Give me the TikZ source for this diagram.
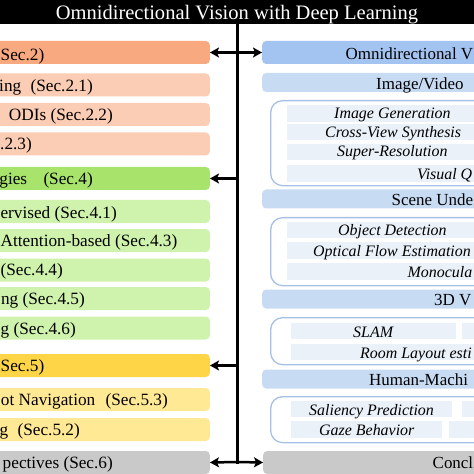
\documentclass[tikz,border=0pt]{standalone}
\usepackage{fontspec}
\setmainfont{Liberation Serif}
\usepackage{xcolor}
\usepackage{tikz}
\usetikzlibrary{arrows.meta,positioning}
\definecolor{orgA}{HTML}{F9A97F}
\definecolor{orgB}{HTML}{FBCDB4}
\definecolor{grnA}{HTML}{A8E46C}
\definecolor{grnB}{HTML}{CFF2AD}
\definecolor{ylwA}{HTML}{FDD547}
\definecolor{ylwB}{HTML}{FFE995}
\definecolor{gryA}{HTML}{C9C9C9}
\definecolor{bluA}{HTML}{A3C3F0}
\definecolor{bluB}{HTML}{C7DBF3}
\definecolor{frameC}{HTML}{A7C0E6}
\definecolor{cellC}{HTML}{EBF1F9}
\tikzset{
  ar/.style={-{Stealth[length=9bp,width=10bp,inset=2bp]},line width=2.5bp,black},
  spine/.style={line width=3bp,black,line cap=rect},
  lbox/.style={rounded corners=4bp,minimum width=400bp,minimum height=23bp,inner sep=0pt,anchor=east},
  rhead/.style={rounded corners=4bp,minimum width=300bp,minimum height=23bp,inner sep=0pt,anchor=west},
  rsub/.style={rounded corners=4bp,minimum width=300bp,minimum height=19bp,inner sep=0pt,anchor=west,fill=bluB},
  frm/.style={draw=frameC,line width=1.3bp,fill=white,rounded corners=12bp,anchor=north west,minimum width=260bp,inner sep=0pt},
  cell/.style={fill=cellC,minimum height=16.5bp,inner sep=0pt,anchor=west},
  ltxt/.style={font=\fontsize{17.3}{20}\selectfont,anchor=base east,inner sep=0pt},
  htxt/.style={font=\fontsize{17}{20}\selectfont,anchor=base west,inner sep=0pt},
  itxt/.style={font=\fontsize{16}{19}\selectfont\itshape,anchor=base west,inner sep=0pt}
}

\begin{document}
\begin{tikzpicture}[x=1bp,y=-1bp]
\path[use as bounding box] (0,0) rectangle (474,474);
\clip (0,0) rectangle (474,474);
% title bar
\fill[black] (-5,-5) rectangle (480,24);
\node[font=\fontsize{20.6}{24}\selectfont,text=white,anchor=base,inner sep=0pt] (ttl) at (237,19.5) {Omnidirectional Vision with Deep Learning};

% left column
\node[lbox,fill=orgA] (s2) at (210,52.5) {};
\node[ltxt,anchor=base west] at (0.5,60.7) {Sec.2)};
\node[lbox,fill=orgB] (s21) at (210,85) {};
\node[ltxt] at (93,91.7) {ing\hspace{5bp} (Sec.2.1)};
\node[lbox,fill=orgB] (s22) at (210,114.5) {};
\node[ltxt] at (113,120.7) {ODIs (Sec.2.2)};
\node[lbox,fill=orgB] (s23) at (210,144) {};
\node[ltxt] at (32,150) {.2.3)};
\node[lbox,fill=grnA] (s4) at (210,178.5) {};
\node[ltxt] at (93,185) {gies\hspace{12bp} (Sec.4)};
\node[lbox,fill=grnB] (s41) at (210,211.5) {};
\node[ltxt] at (117,218.3) {ervised (Sec.4.1)};
\node[lbox,fill=grnB] (s43) at (210,240.5) {};
\node[ltxt,anchor=base west] at (0.5,246.7) {Attention-based (Sec.4.3)};
\node[lbox,fill=grnB] (s44) at (210,270) {};
\node[ltxt] at (63,275.7) {(Sec.4.4)};
\node[lbox,fill=grnB] (s45) at (210,298.5) {};
\node[ltxt] at (85,304.3) {ng (Sec.4.5)};
\node[lbox,fill=grnB] (s46) at (210,328) {};
\node[ltxt,anchor=base west] at (0.5,334.7) {g (Sec.4.6)};
\node[lbox,fill=ylwA] (s5) at (210,365.5) {};
\node[ltxt,anchor=base west] at (0.5,371.3) {Sec.5)};
\node[lbox,fill=ylwB] (s53) at (210,399.5) {};
\node[ltxt] at (168,405.7) {ot Navigation\hspace{6bp} (Sec.5.3)};
\node[lbox,fill=ylwB] (s52) at (210,429.5) {};
\node[ltxt] at (80,435.7) {g\hspace{5bp} (Sec.5.2)};
\node[lbox,fill=gryA] (s6) at (210,462.5) {};
\node[ltxt] at (113,468) {pectives (Sec.6)};

% right column
\node[rhead,fill=bluA] (t3) at (262,52.5) {};
\node[htxt] at (345.5,59.3) {Omnidirectional V};
\node[rsub] (t31) at (262,82.5) {};
\node[htxt] at (376,89.3) {Image/Video};
\node[frm,minimum height=85bp] (f1) at (270,100) {};
\node[cell,minimum width=200bp] (c11) at (287,113.5) {};
\node[cell,minimum width=200bp] (c12) at (287,132) {};
\node[cell,minimum width=200bp] (c13) at (287,152) {};
\node[cell,minimum width=200bp] (c14) at (287,173.5) {};
\node[itxt] at (334,118.5) {Image Generation};
\node[itxt] at (325,137.3) {Cross-View Synthesis};
\node[itxt] at (337,157) {Super-Resolution};
\node[itxt] at (417,180) {Visual Q};

\node[rsub] (t32) at (262,199) {};
\node[htxt] at (391.5,205.7) {Scene Unde};
\node[frm,minimum height=68bp] (f2) at (270,217) {};
\node[cell,minimum width=200bp] (c21) at (287,230) {};
\node[cell,minimum width=200bp] (c22) at (287,250.5) {};
\node[cell,minimum width=200bp] (c23) at (287,271.5) {};
\node[itxt] at (338,236) {Object Detection};
\node[itxt] at (313,256.7) {Optical Flow Estimation};
\node[itxt] at (407.5,277.7) {Monocula};

\node[rsub] (t33) at (262,299) {};
\node[htxt] at (434,305) {3D V};
\node[frm,minimum height=47bp] (f3) at (270,317) {};
\node[cell,minimum width=165bp] (c31) at (291,331) {};
\node[cell,minimum width=40bp] (c32) at (462,331) {};
\node[cell,minimum width=200bp] (c33) at (291,352) {};
\node[itxt] at (353,337.3) {SLAM};
\node[itxt] at (360,358) {Room Layout esti};

\node[rsub] (t34) at (262,379) {};
\node[htxt] at (369,385) {Human-Machi};
\node[frm,minimum height=46bp] (f4) at (270,396) {};
\node[cell,minimum width=161bp] (c41) at (291,409) {};
\node[cell,minimum width=40bp] (c42) at (462,409) {};
\node[cell,minimum width=151bp] (c43) at (291,429.5) {};
\node[cell,minimum width=40bp] (c44) at (449,429.5) {};
\node[itxt] at (309,415.7) {Saliency Prediction};
\node[itxt] at (319,435.7) {Gaze Behavior};

\node[rhead,fill=gryA] (t7) at (263,462.5) {};
\node[htxt] at (432.5,468) {Concl};

% spine and arrows
\coordinate (jt) at (237,24);
\coordinate (j2) at (237,52.5);
\coordinate (j4) at (237,178.5);
\coordinate (j5) at (237,365.5);
\coordinate (jb) at (237,462);
\draw[spine] (jt) -- (jb);
\draw[ar] (j2) -- (s2.east);
\draw[ar] (j2) -- (t3.west);
\draw[ar] (j4) -- (s4.east);
\draw[ar] (j5) -- (s5.east);
\draw[ar] (jb) -- (s6.east);
\draw[ar] (jb) -- (t7.west);
\end{tikzpicture}
\end{document}
